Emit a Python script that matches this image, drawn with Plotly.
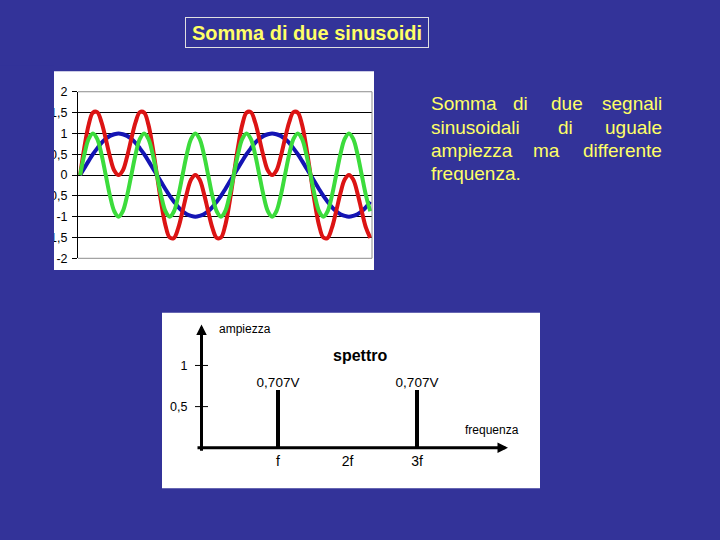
import plotly.graph_objects as go

W, H = 720, 540
BG = "#333399"
YELLOW = "#FFFF66"
FONT = "Arial, Liberation Sans, sans-serif"

# ---------------- top chart data ----------------
angle_deg = [0, 10, 20, 30, 40, 50, 60, 70, 80, 90, 100, 110, 120, 130, 140, 150, 160, 170,
             180, 190, 200, 210, 220, 230, 240, 250, 260, 270, 280, 290, 300, 310, 320, 330,
             340, 350, 360, 370, 380, 390, 400, 410, 420, 430, 440, 450, 460, 470, 480, 490,
             500, 510, 520, 530, 540, 550, 560, 570, 580, 590, 600, 610, 620, 630, 640, 650,
             660, 670, 680]

blue_f = [0, 0.17, 0.34, 0.5, 0.64, 0.77, 0.87, 0.94, 0.98, 1,
          0.98, 0.94, 0.87, 0.77, 0.64, 0.5, 0.34, 0.17, 0,
          -0.17, -0.34, -0.5, -0.64, -0.77, -0.87, -0.94, -0.98, -1,
          -0.98, -0.94, -0.87, -0.77, -0.64, -0.5, -0.34, -0.17, 0,
          0.17, 0.34, 0.5, 0.64, 0.77, 0.87, 0.94, 0.98, 1,
          0.98, 0.94, 0.87, 0.77, 0.64, 0.5, 0.34, 0.17, 0,
          -0.17, -0.34, -0.5, -0.64, -0.77, -0.87, -0.94, -0.98, -1,
          -0.98, -0.94, -0.87, -0.77, -0.64]

green_3f = [0, 0.5, 0.87, 1, 0.87, 0.5, 0, -0.5, -0.87, -1, -0.87, -0.5,
            0, 0.5, 0.87, 1, 0.87, 0.5, 0, -0.5, -0.87, -1, -0.87, -0.5,
            0, 0.5, 0.87, 1, 0.87, 0.5, 0, -0.5, -0.87, -1, -0.87, -0.5,
            0, 0.5, 0.87, 1, 0.87, 0.5, 0, -0.5, -0.87, -1, -0.87, -0.5,
            0, 0.5, 0.87, 1, 0.87, 0.5, 0, -0.5, -0.87, -1, -0.87, -0.5,
            0, 0.5, 0.87, 1, 0.87, 0.5, 0, -0.5, -0.87]

red_sum = [0, 0.67, 1.21, 1.5, 1.51, 1.27, 0.87, 0.44, 0.11, 0, 0.11, 0.44, 0.87, 1.27, 1.51, 1.5, 1.21, 0.67, 0,
           -0.67, -1.21, -1.5, -1.51, -1.27, -0.87, -0.44, -0.11, 0, -0.11, -0.44, -0.87, -1.27, -1.51, -1.5, -1.21, -0.67, 0,
           0.67, 1.21, 1.5, 1.51, 1.27, 0.87, 0.44, 0.11, 0, 0.11, 0.44, 0.87, 1.27, 1.51, 1.5, 1.21, 0.67, 0,
           -0.67, -1.21, -1.5, -1.51, -1.27, -0.87, -0.44, -0.11, 0, -0.11, -0.44, -0.87, -1.27, -1.51]

y_tick_vals = [2, 1.5, 1, 0.5, 0, -0.5, -1, -1.5, -2]
y_tick_text = ["2", "1,5", "1", "0,5", "0", "-0,5", "-1", "-1,5", "-2"]

# ---------------- spectrum data ----------------
spec_freq = [1, 3]
spec_amp = [0.707, 0.707]
freq_tick_vals = [1, 2, 3]
freq_tick_text = ["f", "2f", "3f"]
amp_tick_vals = [0.5, 1]
amp_tick_text = ["0,5", "1"]


def px_x(p):
    return p / W


def px_y(p):
    return 1 - p / H


# bottom subplot pixel<->data mapping
X0P, XS = 208.5, 69.5
Y0P, YS = 452.5, 84.5


def X2(p):
    return (p - X0P) / XS


def Y2(p):
    return (Y0P - p) / YS


fig = go.Figure()

# top chart traces
fig.add_trace(go.Scatter(x=angle_deg, y=blue_f, mode="lines",
                         line=dict(color="#1414B4", width=4, shape="spline", smoothing=1),
                         xaxis="x", yaxis="y", hoverinfo="skip"))
fig.add_trace(go.Scatter(x=angle_deg, y=red_sum, mode="lines",
                         line=dict(color="#DC1414", width=4, shape="spline", smoothing=1),
                         xaxis="x", yaxis="y", hoverinfo="skip"))
fig.add_trace(go.Scatter(x=angle_deg, y=green_3f, mode="lines",
                         line=dict(color="#3CDC3C", width=4, shape="spline", smoothing=1),
                         xaxis="x", yaxis="y", hoverinfo="skip"))

# spectrum bars
fig.add_trace(go.Bar(x=spec_freq, y=spec_amp, width=4 / XS,
                     marker=dict(color="black", line=dict(width=0)),
                     texttemplate="%{y:.3f}V", textposition="outside", constraintext="none",
                     textfont=dict(family=FONT, size=13.5, color="black"),
                     cliponaxis=False, xaxis="x2", yaxis="y2", hoverinfo="skip"))

GRAY = "#8C8C8C"
shapes = [
    # white panels
    dict(type="rect", xref="paper", yref="paper", x0=px_x(54), x1=px_x(374), y0=px_y(270), y1=px_y(66),
         fillcolor="white", line=dict(width=0), layer="below"),
    dict(type="rect", xref="paper", yref="paper", x0=px_x(162), x1=px_x(540), y0=px_y(494), y1=px_y(314),
         fillcolor="white", line=dict(width=0), layer="below"),
    # plot-area border (gray) of top chart: top, right, bottom
    dict(type="line", xref="x domain", yref="y domain", x0=0, x1=1, y0=1, y1=1,
         line=dict(color=GRAY, width=1), layer="above"),
    dict(type="line", xref="x domain", yref="y domain", x0=0, x1=1, y0=0, y1=0,
         line=dict(color=GRAY, width=1), layer="above"),
    dict(type="line", xref="x domain", yref="y domain", x0=1, x1=1, y0=0, y1=1,
         line=dict(color=GRAY, width=1), layer="above"),
    # cover to clip tick labels at panel edge
    dict(type="rect", xref="paper", yref="paper", x0=0, x1=px_x(54), y0=px_y(272), y1=px_y(60),
         fillcolor=BG, line=dict(width=0), layer="above"),
    # spectrum tick marks
    dict(type="line", xref="x2", yref="y2", x0=X2(195), x1=X2(208), y0=1, y1=1,
         line=dict(color="black", width=1)),
    dict(type="line", xref="x2", yref="y2", x0=X2(195), x1=X2(208), y0=0.5, y1=0.5,
         line=dict(color="black", width=1)),
]

annotations = [
    # title box
    dict(xref="paper", yref="paper", x=px_x(307), y=px_y(26.5), xanchor="center", yanchor="middle",
         text="<b>Somma di due sinusoidi</b>", showarrow=False,
         font=dict(family=FONT, size=20, color=YELLOW),
         bordercolor="#E0E0E0", borderwidth=1, borderpad=0, width=242, height=29),
    # spectrum axes (arrows)
    dict(xref="x2", yref="y2", axref="x2", ayref="y2", x=X2(201.5), y=Y2(326), ax=X2(201.5), ay=Y2(457),
         text="", showarrow=True, arrowhead=2, arrowsize=0.7, arrowwidth=3, arrowcolor="black",
         standoff=0, startstandoff=0),
    dict(xref="x2", yref="y2", axref="x2", ayref="y2", x=X2(508), y=0, ax=X2(196), ay=0,
         text="", showarrow=True, arrowhead=2, arrowsize=0.7, arrowwidth=3, arrowcolor="black",
         standoff=0, startstandoff=0),
    dict(xref="paper", yref="paper", x=px_x(245), y=px_y(331), xanchor="center", yanchor="middle",
         text="ampiezza", showarrow=False, font=dict(family=FONT, size=12, color="black")),
    dict(xref="paper", yref="paper", x=px_x(360), y=px_y(358), xanchor="center", yanchor="middle",
         text="<b>spettro</b>", showarrow=False, font=dict(family=FONT, size=16, color="black")),
    dict(xref="paper", yref="paper", x=px_x(492), y=px_y(434), xanchor="center", yanchor="middle",
         text="frequenza", showarrow=False, font=dict(family=FONT, size=12, color="black")),
]

# justified text on the right
text_lines = [
    [("Somma", 429, "left"), ("di", 520.5, "center"), ("due", 566.5, "center"), ("segnali", 664, "right")],
    [("sinusoidali", 429, "left"), ("di", 565, "center"), ("uguale", 664, "right")],
    [("ampiezza", 429, "left"), ("ma", 546.5, "center"), ("differente", 664, "right")],
    [("frequenza.", 429, "left")],
]
line_y = [99.5, 123.5, 147, 170.5]
for words, yy in zip(text_lines, line_y):
    for w, xx, anc in words:
        annotations.append(dict(xref="paper", yref="paper", x=px_x(xx), y=px_y(yy),
                                xanchor=anc, yanchor="middle", text=w, showarrow=False,
                                font=dict(family=FONT, size=19, color=YELLOW)))

fig.update_layout(
    width=W, height=H,
    margin=dict(l=0, r=0, t=0, b=0),
    paper_bgcolor=BG, plot_bgcolor="rgba(0,0,0,0)",
    showlegend=False,
    separators=",.",
    font=dict(family=FONT, color="black"),
    xaxis=dict(domain=[px_x(78), px_x(372)], range=[-5, 684], showticklabels=False,
               showgrid=False, zeroline=False, showline=False, ticks="", fixedrange=True),
    yaxis=dict(domain=[px_y(258), px_y(87)], range=[-2, 2], tickvals=y_tick_vals, ticktext=y_tick_text,
               showgrid=True, gridcolor="black", gridwidth=1, zeroline=False,
               showline=True, linecolor="black", linewidth=1,
               ticks="outside", ticklen=5, tickcolor="black", tickwidth=1,
               tickfont=dict(family=FONT, size=12.5, color="black"), ticklabelstandoff=2, fixedrange=True),
    xaxis2=dict(domain=[px_x(162), px_x(540)], range=[X2(162), X2(540)], anchor="free", position=px_y(452.5),
                tickvals=freq_tick_vals, ticktext=freq_tick_text, ticks="", showline=False,
                showgrid=False, zeroline=False, tickfont=dict(family=FONT, size=14, color="black"),
                ticklabelstandoff=3, fixedrange=True),
    yaxis2=dict(domain=[px_y(494), px_y(314)], range=[Y2(494), Y2(314)], anchor="free", position=px_x(201.5),
                tickvals=amp_tick_vals, ticktext=amp_tick_text, ticks="", showline=False,
                showgrid=False, zeroline=False, tickfont=dict(family=FONT, size=12.5, color="black"),
                ticklabelstandoff=14, fixedrange=True),
    shapes=shapes,
    annotations=annotations,
    bargap=0,
)

fig.write_html("out.html", config={"displayModeBar": False},
               post_script="document.body.style.margin='0';document.body.style.padding='0';")
